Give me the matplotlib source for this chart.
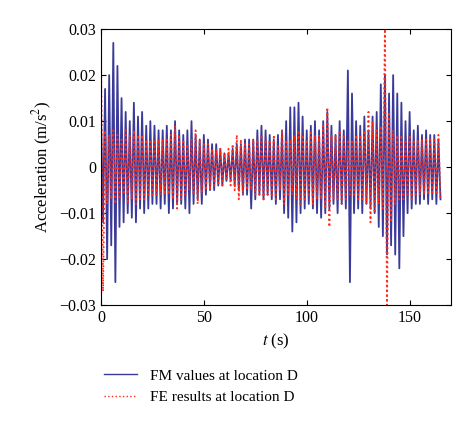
import numpy as np
import matplotlib
matplotlib.use("Agg")
import matplotlib.pyplot as plt

plt.rcParams['font.family'] = ['Liberation Serif', 'DejaVu Serif']
plt.rcParams['mathtext.fontset'] = 'stix'

# peak values per 2 s segment (m/s^2)
fm_upper = [0.012,0.017,0.020,0.027,0.022,0.015,
            0.012,0.010,0.014,0.011,0.012,
            0.009,0.010,0.009,0.008,0.008,
            0.009,0.008,0.010,0.008,0.007,
            0.008,0.010,0.007,0.006,0.007,
            0.006,0.005,0.005,0.004,0.003,
            0.003,0.004,0.005,0.005,0.006,
            0.006,0.006,0.008,0.009,0.008,
            0.007,0.006,0.007,0.008,0.010,
            0.013,0.013,0.014,0.011,0.008,
            0.009,0.010,0.008,0.010,0.012,
            0.009,0.007,0.010,0.008,0.021,
            0.016,0.010,0.009,0.011,0.008,
            0.011,0.012,0.018,0.020,0.016,
            0.020,0.016,0.014,0.010,0.012,
            0.008,0.009,0.007,0.008,0.007,
            0.007,0.006]
fm_lower = [0.012,0.020,0.017,0.025,0.013,0.012,
            0.010,0.011,0.012,0.009,0.010,
            0.009,0.008,0.008,0.009,0.008,
            0.010,0.009,0.008,0.008,0.009,
            0.010,0.008,0.007,0.008,0.006,
            0.005,0.005,0.004,0.004,0.003,
            0.003,0.004,0.005,0.006,0.006,
            0.009,0.007,0.006,0.007,0.006,
            0.007,0.008,0.007,0.010,0.011,
            0.014,0.012,0.010,0.009,0.008,
            0.009,0.010,0.011,0.010,0.009,
            0.008,0.010,0.008,0.009,0.025,
            0.010,0.009,0.010,0.008,0.009,
            0.010,0.013,0.015,0.019,0.017,
            0.019,0.022,0.015,0.010,0.009,
            0.008,0.008,0.007,0.008,0.007,
            0.008,0.007]
fe_amp = [0.027,0.008,0.007,0.008,0.007,0.006,
          0.008,0.007,0.008,0.007,0.007,
          0.006,0.006,0.006,0.006,0.006,
          0.006,0.007,0.009,0.007,0.006,
          0.005,0.006,0.008,0.006,0.005,
          0.005,0.004,0.004,0.004,0.003,
          0.004,0.005,0.007,0.006,0.005,
          0.005,0.006,0.006,0.007,0.006,
          0.006,0.007,0.005,0.008,0.006,
          0.006,0.007,0.008,0.007,0.006,
          0.008,0.007,0.007,0.009,0.013,
          0.007,0.007,0.008,0.007,0.006,
          0.006,0.007,0.007,0.008,0.012,
          0.010,0.008,0.009,0.030,0.012,
          0.008,0.007,0.007,0.006,0.007,
          0.006,0.006,0.006,0.006,0.006,
          0.006,0.007]

def zigzag(up, lo):
    t, y = [], []
    for k, (u, l) in enumerate(zip(up, lo)):
        t += [2*k, 2*k + 1]
        y += [u, -l]
    return np.array(t), np.array(y)

t1, y1 = zigzag(fm_upper, fm_lower)
t2, y2 = zigzag(fe_amp, fe_amp)

fig = plt.figure(figsize=(4.74, 4.28), dpi=100)
ax = fig.add_axes([0.213, 0.287, 0.738, 0.645])
l1, = ax.plot(t1, y1, color='#3a3a9a', lw=1.3, label='FM values at location D')
l2, = ax.plot(t2, y2, color='#ff2a1a', lw=1.3, ls=':', label='FE results at location D')
ax.set_xlim(0, 170)
ax.set_ylim(-0.03, 0.03)
ax.set_xticks([0, 50, 100, 150])
ax.set_yticks([-0.03, -0.02, -0.01, 0, 0.01, 0.02, 0.03])
ax.set_yticklabels(['\u22120.03', '\u22120.02', '\u22120.01', '0', '0.01', '0.02', '0.03'])
ax.tick_params(direction='in', top=True, right=True, labelsize=11.5)
ax.set_xlabel('$t$ (s)', fontsize=12)
ax.set_ylabel('Acceleration (m/s$^2$)', fontsize=12)
leg = fig.legend(handles=[l1, l2], loc='upper left', bbox_to_anchor=(0.19, 0.17),
                 frameon=False, fontsize=11, handlelength=2.2)
for h in leg.legend_handles:
    h.set_linewidth(1.0)
fig.savefig('out.png', dpi=100)
